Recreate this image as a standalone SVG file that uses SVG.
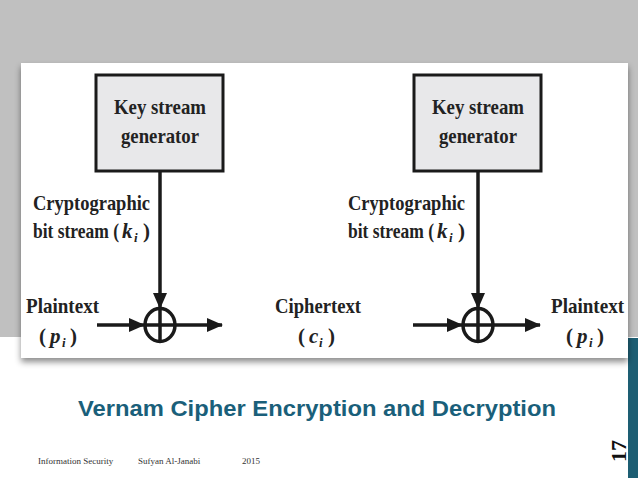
<svg xmlns="http://www.w3.org/2000/svg" width="638" height="478" viewBox="0 0 638 478">
<defs>
<style>
.t{font-family:"Liberation Serif",serif;font-weight:bold;font-size:21px;fill:#222}
.i{font-style:italic}
.s{font-style:italic;font-size:13px}
.b{stroke:#1a1a1a;stroke-width:3.5;fill:none}
.f{font-family:"Liberation Serif",serif;font-size:9px;fill:#333}
</style>
<marker id="ah" markerWidth="16" markerHeight="14" refX="15" refY="7" orient="auto" markerUnits="userSpaceOnUse"><path d="M0,0 L16,7 L0,14 z" fill="#1a1a1a"/></marker>
<filter id="sh" x="-5%" y="-5%" width="110%" height="115%"><feDropShadow dx="0" dy="4" stdDeviation="3" flood-color="#000" flood-opacity="0.45"/></filter>
</defs>
<rect width="638" height="478" fill="#fff"/>
<rect width="638" height="337" fill="#c0c0c0"/>
<rect x="628" y="338" width="10" height="140" fill="#1d5e73"/>
<rect x="21" y="63" width="607" height="295" fill="#fff" filter="url(#sh)"/>
<g id="kg1"><rect x="96" y="75" width="127" height="96" fill="#e8e8ea" stroke="#1a1a1a" stroke-width="3"/>
<text class="t" x="160" y="114" text-anchor="middle" textLength="92" lengthAdjust="spacingAndGlyphs">Key stream</text><text class="t" x="160" y="143" text-anchor="middle" textLength="78" lengthAdjust="spacingAndGlyphs">generator</text></g>
<g id="kg2"><rect x="414" y="75" width="127" height="96" fill="#e8e8ea" stroke="#1a1a1a" stroke-width="3"/>
<text class="t" x="478" y="114" text-anchor="middle" textLength="92" lengthAdjust="spacingAndGlyphs">Key stream</text><text class="t" x="478" y="143" text-anchor="middle" textLength="78" lengthAdjust="spacingAndGlyphs">generator</text></g>
<g id="x1"><ellipse cx="160" cy="325" rx="15" ry="16.5" class="b"/><path d="M160 310V340M146 325H174" class="b"/></g>
<g id="x2"><ellipse cx="478" cy="325" rx="15" ry="16.5" class="b"/><path d="M478 310V340M464 325H492" class="b"/></g>
<g id="labels">
<text class="t" x="33" y="210" textLength="117" lengthAdjust="spacingAndGlyphs">Cryptographic</text>
<text class="t" x="33" y="238" textLength="86" lengthAdjust="spacingAndGlyphs">bit stream (</text>
<text class="t i" x="122" y="238">k</text><text class="t s" x="134" y="242">i</text><text class="t" x="143" y="238">)</text>
<text class="t" x="348" y="210" textLength="117" lengthAdjust="spacingAndGlyphs">Cryptographic</text>
<text class="t" x="348" y="238" textLength="86" lengthAdjust="spacingAndGlyphs">bit stream (</text>
<text class="t i" x="437" y="238">k</text><text class="t s" x="449" y="242">i</text><text class="t" x="458" y="238">)</text>
<text class="t" x="26" y="313" textLength="73" lengthAdjust="spacingAndGlyphs">Plaintext</text>
<text class="t" x="39" y="343">(</text><text class="t i" x="50" y="343">p</text><text class="t s" x="62" y="347">i</text><text class="t" x="70" y="343">)</text>
<text class="t" x="275" y="313" textLength="86" lengthAdjust="spacingAndGlyphs">Ciphertext</text>
<text class="t" x="298" y="343">(</text><text class="t i" x="309" y="343">c</text><text class="t s" x="319" y="347">i</text><text class="t" x="328" y="343">)</text>
<text class="t" x="551" y="313" textLength="73" lengthAdjust="spacingAndGlyphs">Plaintext</text>
<text class="t" x="566" y="343">(</text><text class="t i" x="577" y="343">p</text><text class="t s" x="589" y="347">i</text><text class="t" x="597" y="343">)</text>
</g>
<g id="connectors" stroke="#1a1a1a" stroke-width="3.5" marker-end="url(#ah)">
<line x1="160" y1="171" x2="160" y2="308"/>
<line x1="478" y1="171" x2="478" y2="308"/>
<line x1="97" y1="325" x2="144" y2="325"/>
<line x1="175" y1="325" x2="222" y2="325"/>
<line x1="413" y1="325" x2="462" y2="325"/>
<line x1="493" y1="325" x2="540" y2="325"/>
</g>
<text x="317" y="416" text-anchor="middle" font-family="Liberation Sans,sans-serif" font-weight="bold" font-size="22" fill="#1a5f7a" textLength="478" lengthAdjust="spacingAndGlyphs">Vernam Cipher Encryption and Decryption</text>
<text class="f" x="38" y="464">Information Security</text>
<text class="f" x="138" y="464">Sufyan Al-Janabi</text>
<text class="f" x="242" y="464">2015</text>
<text x="626" y="462" transform="rotate(-90 626 462)" font-family="Liberation Serif,serif" font-weight="bold" font-size="22" fill="#111">17</text>
</svg>
